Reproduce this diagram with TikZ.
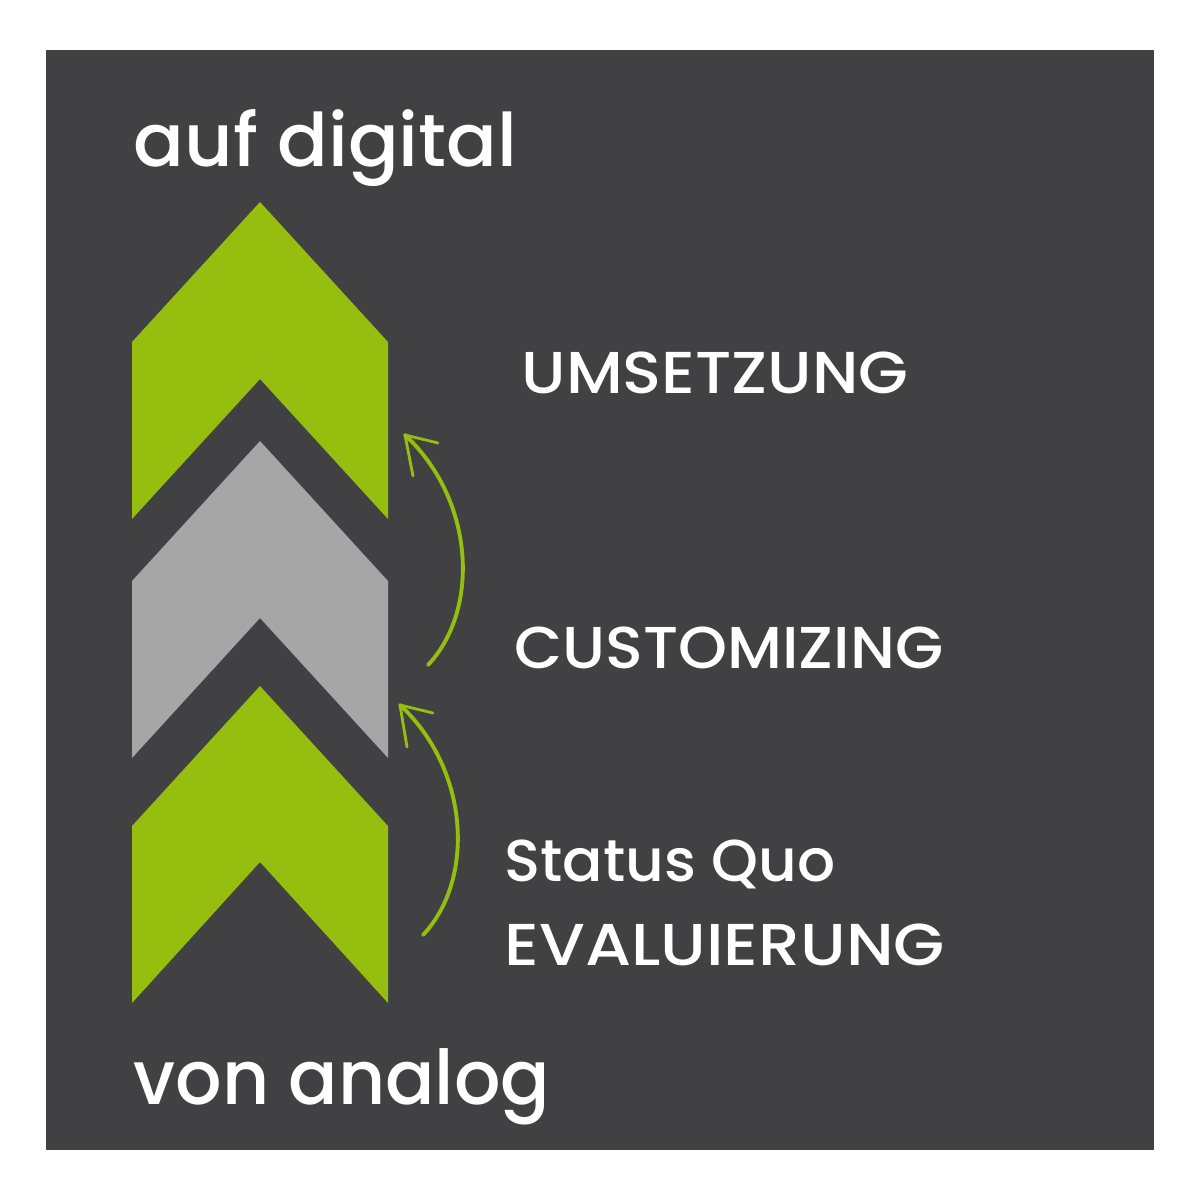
\documentclass[tikz,border=0pt]{standalone}
\usepackage{graphicx}
\usepackage{fontspec}
\setmainfont{Poppins}[UprightFont=* Medium]
\definecolor{bg}{HTML}{414143}
\definecolor{lime}{HTML}{96BE0E}
\definecolor{lgray}{HTML}{A6A6A6}
\begin{document}
\begin{tikzpicture}[x=0.01cm,y=-0.01cm,
  big/.style={text=white,inner sep=0pt,anchor=base west,font=\fontsize{21}{24}\selectfont},
  lbl/.style={text=white,inner sep=0pt,anchor=base west,font=\fontsize{16.8}{20}\selectfont},
  curvearrow/.style={draw=lime,line width=1.1pt,line cap=round},
  headline/.style={draw=lime,line width=0.8pt,line cap=round}]
\useasboundingbox (0,0) rectangle (1200,1200);
\fill[white] (0,0) rectangle (1200,1200);
\fill[bg] (46,50) rectangle (1154,1150);
% chevrons
\fill[lime] (260,202) -- (388,342) -- (388,519) -- (260,379) -- (132,519) -- (132,342) -- cycle;
\fill[lgray] (260,441) -- (388,581) -- (388,758) -- (260,618) -- (132,758) -- (132,581) -- cycle;
\fill[lime] (260,686) -- (388,826) -- (388,1003) -- (260,862) -- (132,1003) -- (132,826) -- cycle;
% texts
\node[big] (top) at (133,166) {\scalebox{1.015}[1]{auf digital}};
\node[big,font=\fontsize{21.5}{25}\selectfont] (bottom) at (133,1104) {\scalebox{0.965}[1]{von analog}};
\node[lbl] (ums) at (521,393) {\scalebox{1.09}[1]{UMSETZUNG}};
\node[lbl] (cust) at (514,668) {\scalebox{1.055}[1]{CUSTOMIZING}};
\node[lbl] (sq) at (504,881) {\scalebox{1.01}[1]{Status Quo}};
\node[lbl] (eva) at (504,965) {\scalebox{1.12}[1]{EVALUIERUNG}};
% arrows
\coordinate (a1s) at (428,665);
\coordinate (a1e) at (405,435);
\coordinate (a1h1) at (438,443);
\coordinate (a1h2) at (413,476);
\coordinate (a2s) at (423,935);
\coordinate (a2e) at (400,705);
\coordinate (a2h1) at (433,713);
\coordinate (a2h2) at (407,747);
\draw[curvearrow] (a1s) .. controls (480,610) and (475,500) .. (a1e);
\draw[headline] (a1e) -- (a1h1);
\draw[headline] (a1e) -- (a1h2);
\draw[curvearrow] (a2s) .. controls (475,880) and (470,770) .. (a2e);
\draw[headline] (a2e) -- (a2h1);
\draw[headline] (a2e) -- (a2h2);
\end{tikzpicture}
\end{document}
